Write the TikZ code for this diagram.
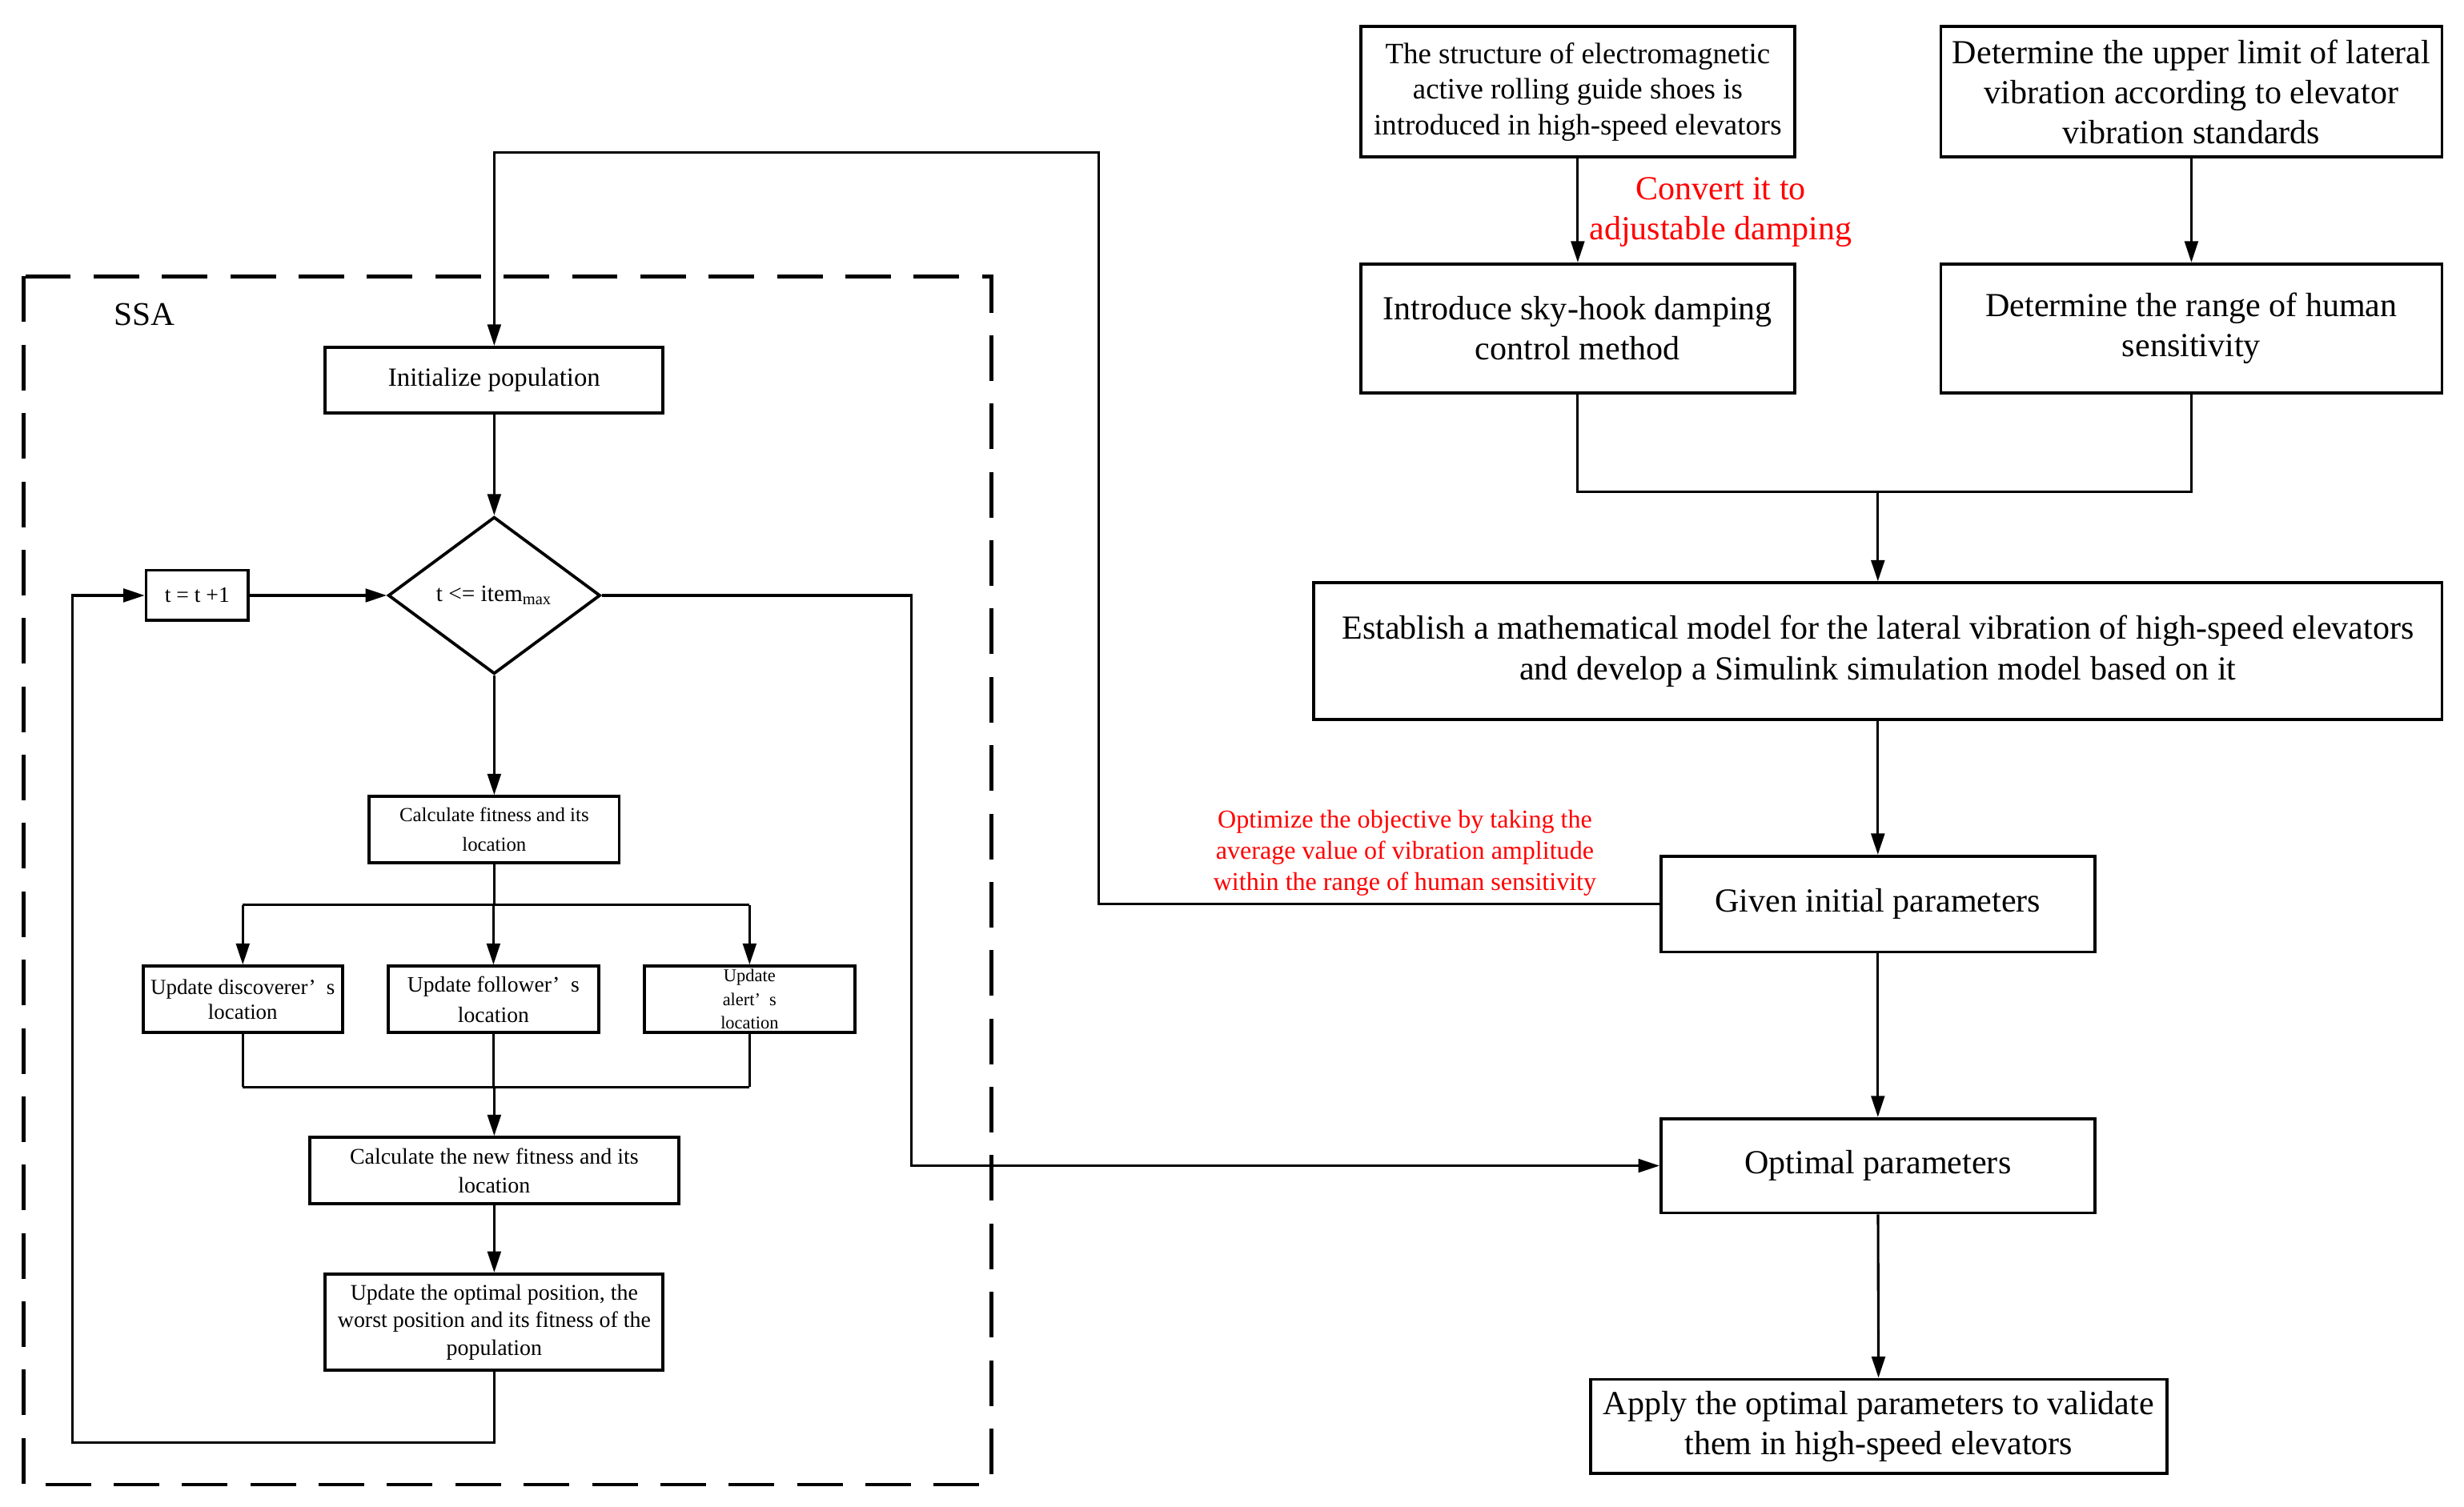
\documentclass[tikz,border=0pt]{standalone}
\usepackage{fontspec}
\setmainfont{Liberation Serif}
\usetikzlibrary{shapes.geometric,arrows.meta}
\tikzset{
  box/.style={draw, line width=1.1pt, align=center, inner sep=1pt},
  small/.style={font=\fontsize{8.1}{10.5}\selectfont},
  big/.style={font=\fontsize{12.2}{14.5}\selectfont},
  link/.style={line width=0.9pt},
  arr/.style={line width=0.9pt, -{Triangle[length=2.7mm,width=1.7mm]}},
  note/.style={text=red, align=center},
}
\begin{document}
\begin{tikzpicture}[x=0.02cm, y=-0.02cm]
\useasboundingbox (0,0) rectangle (1568,959);

\draw[line width=1.3pt, dash pattern=on 0.58cm off 0.29cm] (15,176) rectangle (631,945);
\node[font=\fontsize{12}{14}\selectfont] (ssa) at (92,200) {SSA};

\node[box, font=\fontsize{9.5}{12}\selectfont, minimum width=4.3cm, minimum height=0.84cm] (init) at (314.5,242) {Initialize population};
\node[draw, diamond, aspect=1.35, line width=1.1pt, inner sep=0pt, minimum width=2.7cm, minimum height=2cm, font=\fontsize{8.5}{10}\selectfont] (cond) at (314.5,379) {t <= item\textsubscript{max}};
\node[box, font=\fontsize{8}{10}\selectfont, minimum width=1.3cm, minimum height=0.64cm] (tinc) at (125.5,379) {t = t +1};
\node[box, font=\fontsize{7.2}{10.5}\selectfont, minimum width=3.18cm, minimum height=0.84cm] (fit1) at (314.5,528) {Calculate fitness and its\\location};
\node[box, font=\fontsize{7.8}{9}\selectfont, minimum width=2.54cm, minimum height=0.84cm] (disc) at (154.5,636) {Update discoverer’\enspace s\\location};
\node[box, font=\fontsize{8}{11}\selectfont, minimum width=2.68cm, minimum height=0.84cm] (foll) at (314,636) {Update follower’\enspace s\\location};
\node[box, font=\fontsize{6.5}{8.5}\selectfont, inner sep=0pt, minimum width=2.68cm, minimum height=0.84cm] (alert) at (477,636) {Update\\alert’\enspace s\\location};
\node[box, small, minimum width=4.7cm, minimum height=0.84cm] (fit2) at (314.5,745) {Calculate the new fitness and its\\location};
\node[box, small, font=\fontsize{8.1}{10}\selectfont, minimum width=4.3cm, minimum height=1.22cm] (upd) at (314.5,841.5) {Update the optimal position, the\\worst position and its fitness of the\\population};

\node[box, font=\fontsize{10.7}{13}\selectfont, minimum width=5.52cm, minimum height=1.66cm] (struct) at (1004,58.5) {The structure of electromagnetic\\active rolling guide shoes is\\introduced in high-speed elevators};
\node[box, big, minimum width=6.38cm, minimum height=1.66cm] (upper) at (1394.5,58.5) {Determine the upper limit of lateral\\vibration according to elevator\\vibration standards};
\node[box, big, minimum width=5.52cm, minimum height=1.64cm] (sky) at (1004,209) {Introduce sky-hook damping\\control method};
\node[box, big, minimum width=6.38cm, minimum height=1.64cm] (range) at (1394.5,209) {Determine the range of human\\sensitivity};
\node[box, big, minimum width=14.36cm, minimum height=1.74cm] (model) at (1195,414.5) {Establish a mathematical model for the lateral vibration of high-speed elevators\\and develop a Simulink simulation model based on it};
\node[box, big, minimum width=5.52cm, minimum height=1.22cm] (given) at (1195,575.5) {Given initial parameters};
\node[box, big, minimum width=5.52cm, minimum height=1.2cm] (optim) at (1195,742) {Optimal parameters};
\node[box, big, minimum width=7.34cm, minimum height=1.2cm] (apply) at (1195.5,908) {Apply the optimal parameters to validate\\them in high-speed elevators};

\node[note, big] (conv) at (1095,135) {Convert it to\\adjustable damping};
\node[note, font=\fontsize{9.3}{11.4}\selectfont] (obj) at (894,543) {Optimize the objective by taking the\\average value of vibration amplitude\\within the range of human sensitivity};

\coordinate (split) at (314.5,576);
\coordinate (join) at (314.5,692);
\coordinate (merge) at (1195,313);

\draw[arr] (init) -- (cond);
\draw[arr] (tinc) -- (cond);
\draw[arr] (cond) -- (fit1);
\draw[link] (fit1) -- (split);
\draw[link] (disc.north |- split) -- (alert.north |- split);
\foreach \n in {disc,foll,alert}
  \draw[arr] (\n.north |- split) -- (\n.north);
\foreach \n in {disc,foll,alert}
  \draw[link] (\n.south) -- (\n.south |- join);
\draw[link] (disc.south |- join) -- (alert.south |- join);
\draw[arr] (join) -- (fit2);
\draw[arr] (fit2) -- (upd);
\draw[arr] (upd.south) |- (46,918) |- (tinc.west);
\draw[arr] (cond.east) -- (580,379) |- (optim.west);
\draw[arr] (given.west) -| (699,97) -| (init.north);

\draw[arr] (struct) -- (sky);
\draw[arr] (upper) -- (range);
\draw[link] (sky.south) |- (merge) -| (range.south);
\draw[arr] (merge) -- (model);
\draw[arr] (model) -- (given);
\draw[arr] (given) -- (optim);
\draw[arr] (optim) -- (apply);
\end{tikzpicture}
\end{document}
